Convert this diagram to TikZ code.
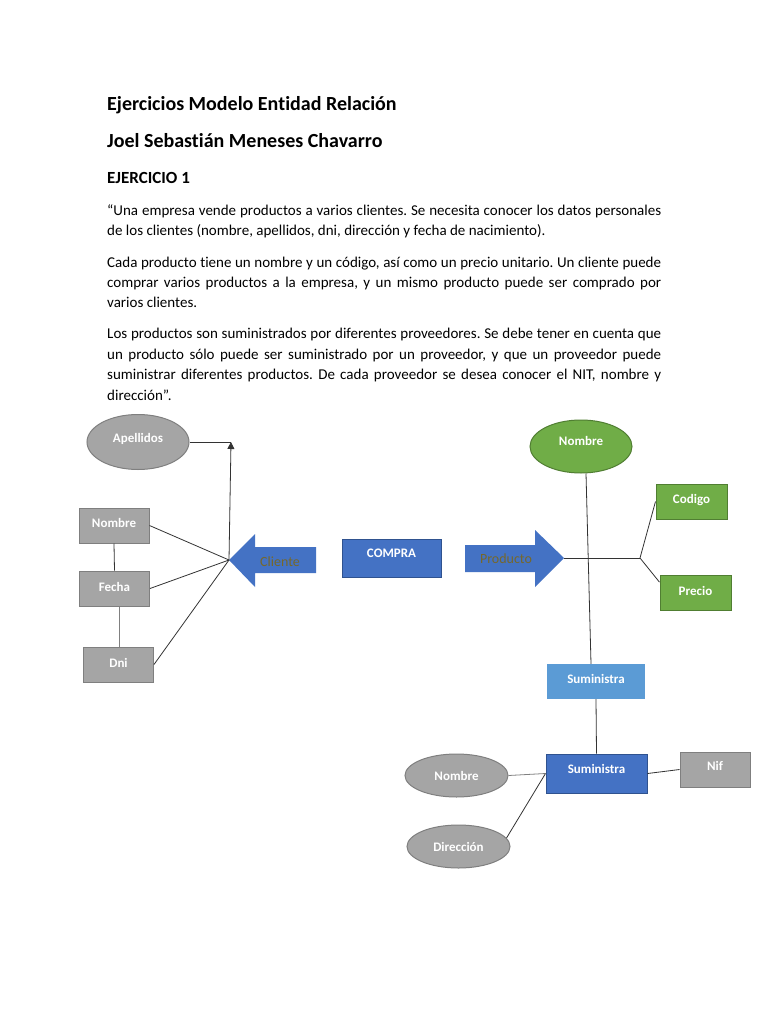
\documentclass[tikz,border=0pt]{standalone}
\usepackage{fontspec}
\setmainfont{Carlito}[Ligatures=NoCommon]
\usetikzlibrary{shapes.geometric,arrows.meta,calc}
\definecolor{grayfill}{HTML}{A5A5A5}
\definecolor{graybord}{HTML}{7F7F7F}
\definecolor{greenfill}{HTML}{70AD47}
\definecolor{greenbord}{HTML}{507E32}
\definecolor{bluefill}{HTML}{4472C4}
\definecolor{bluebord}{HTML}{2F528F}
\definecolor{lightblue}{HTML}{5B9BD5}
\definecolor{olivetext}{HTML}{76682A}
\tikzset{
  bodyline/.style={anchor=base west, inner sep=0pt, font=\fontsize{15}{18}\selectfont},
  shapetext/.style={text=white, font=\bfseries\fontsize{13}{15}\selectfont, inner sep=0pt},
  graybox/.style={shapetext, draw=graybord, fill=grayfill, line width=1pt, minimum width=70pt, minimum height=35pt},
  grayell/.style={shapetext, ellipse, draw=graybord, fill=grayfill, line width=1pt},
  greenbox/.style={shapetext, draw=greenbord, fill=greenfill, line width=1pt, minimum width=71pt, minimum height=35pt},
  greenell/.style={shapetext, ellipse, draw=greenbord, fill=greenfill, line width=1pt},
  bluebox/.style={shapetext, draw=bluebord, fill=bluefill, line width=1pt},
  link/.style={draw=black!80, line width=0.8pt},
  arrowtext/.style={text=olivetext, font=\fontsize{14}{16}\selectfont, inner sep=0pt}
}
\begin{document}
\frenchspacing
\begin{tikzpicture}[x=1pt,y=-1pt]
\useasboundingbox (0,0) rectangle (768,1024);
\fill[white] (0,0) rectangle (768,1024);
% headings
\node[anchor=base west, inner sep=0pt, font=\bfseries\fontsize{20}{22}\selectfont] (t1) at (107,111) {Ejercicios Modelo Entidad Relación};
\node[anchor=base west, inner sep=0pt, font=\bfseries\fontsize{20}{22}\selectfont] (t2) at (107,148) {Joel Sebastián Meneses Chavarro};
\node[anchor=base west, inner sep=0pt, font=\bfseries\fontsize{17}{19}\selectfont] (t3) at (107,184) {EJERCICIO 1};
% paragraphs
\node[bodyline] (p1a) at (107,216) {\makebox[554pt][s]{“Una empresa vende productos a varios clientes. Se necesita conocer los datos personales}};
\node[bodyline] (p1b) at (107,236) {de los clientes (nombre, apellidos, dni, dirección y fecha de nacimiento).};
\node[bodyline] (p2a) at (107,267) {\makebox[554pt][s]{Cada producto tiene un nombre y un código, así como un precio unitario. Un cliente puede}};
\node[bodyline] (p2b) at (107,287) {\makebox[554pt][s]{comprar varios productos a la empresa, y un mismo producto puede ser comprado por}};
\node[bodyline] (p2c) at (107,307) {varios clientes.};
\node[bodyline] (p3a) at (107,338) {\makebox[554pt][s]{Los productos son suministrados por diferentes proveedores. Se debe tener en cuenta que}};
\node[bodyline] (p3b) at (107,359) {\makebox[554pt][s]{un producto sólo puede ser suministrado por un proveedor, y que un proveedor puede}};
\node[bodyline] (p3c) at (107,379) {\makebox[554pt][s]{suministrar diferentes productos. De cada proveedor se desea conocer el NIT, nombre y}};
\node[bodyline] (p3d) at (107,400) {dirección”.};
% ---- Cliente side
\node[grayell, minimum width=102pt, minimum height=55pt, text depth=8pt] (apellidos) at (138,442) {Apellidos};
\node[graybox, text depth=6pt] (cnombre) at (114,525.5) {Nombre};
\node[graybox, text depth=4pt] (cfecha) at (114.5,588.5) {Fecha};
\node[graybox, text depth=4pt] (cdni) at (118.5,664.5) {Dni};
\fill[bluefill] (229,560) -- (255,534) -- (255,547) -- (316,547) -- (316,573) -- (255,573) -- (255,587) -- cycle;
\node[arrowtext] (cliente) at (280,562) {Cliente};
\coordinate (clitip) at (229,560);
\coordinate (ap) at (231,442);
\draw[link] (apellidos.east) -- (ap);
\draw[link, -{Triangle[length=7pt,width=7pt]}] (clitip) -- (ap);
\draw[link] (cnombre.east) -- (clitip);
\draw[link] (cfecha.east) -- (clitip);
\draw[link] (cdni.east) -- (clitip);
\draw[link] (cnombre.south) -- (cfecha.north);
\draw[link, black!50] ($(cfecha.south)+(5,0)$) -- ($(cdni.north)+(1,0)$);
% ---- COMPRA
\node[bluebox, minimum width=99pt, minimum height=38pt, text depth=10pt] (compra) at (391.5,558) {COMPRA};
% ---- Producto side
\fill[bluefill] (465,545) -- (535,545) -- (535,530) -- (564,558) -- (535,587) -- (535,572) -- (465,572) -- cycle;
\node[arrowtext] (producto) at (506,559) {Producto};
\coordinate (protip) at (564,558);
\coordinate (branch) at (640,558);
\node[greenell, minimum width=102pt, minimum height=53pt, text depth=12pt] (pnombre) at (581,446.5) {Nombre};
\node[greenbox, text depth=6pt] (codigo) at (691.5,501.5) {Codigo};
\node[greenbox, text depth=4pt] (precio) at (695.5,592.5) {Precio};
\draw[link] (protip) -- (branch);
\draw[link] (branch) -- (codigo.west);
\draw[link] (branch) -- (precio.164);
% ---- Suministra
\node[shapetext, fill=lightblue, minimum width=98pt, minimum height=35pt, text depth=6pt] (sum1) at (596,681.5) {Suministra};
\node[bluebox, minimum width=101pt, minimum height=39pt, text depth=10pt] (sum2) at (596.5,773.5) {Suministra};
\node[graybox, text depth=8pt] (nif) at (715,769.5) {Nif};
\node[grayell, minimum width=103pt, minimum height=43pt] (snombre) at (456.5,775.5) {Nombre};
\node[grayell, minimum width=103pt, minimum height=43pt] (sdir) at (458.5,846.5) {Dirección};
\draw[link] ($(pnombre.south)+(5,0)$) -- ($(sum1.north)+(-5,0)$);
\draw[link] (sum1.south) -- (sum2.north);
\draw[link] (sum2.east) -- (nif.west);
\draw[link, black!50] (snombre.east) -- (sum2.west);
\draw[link] (sdir.10) -- (sum2.west);
\end{tikzpicture}
\end{document}
